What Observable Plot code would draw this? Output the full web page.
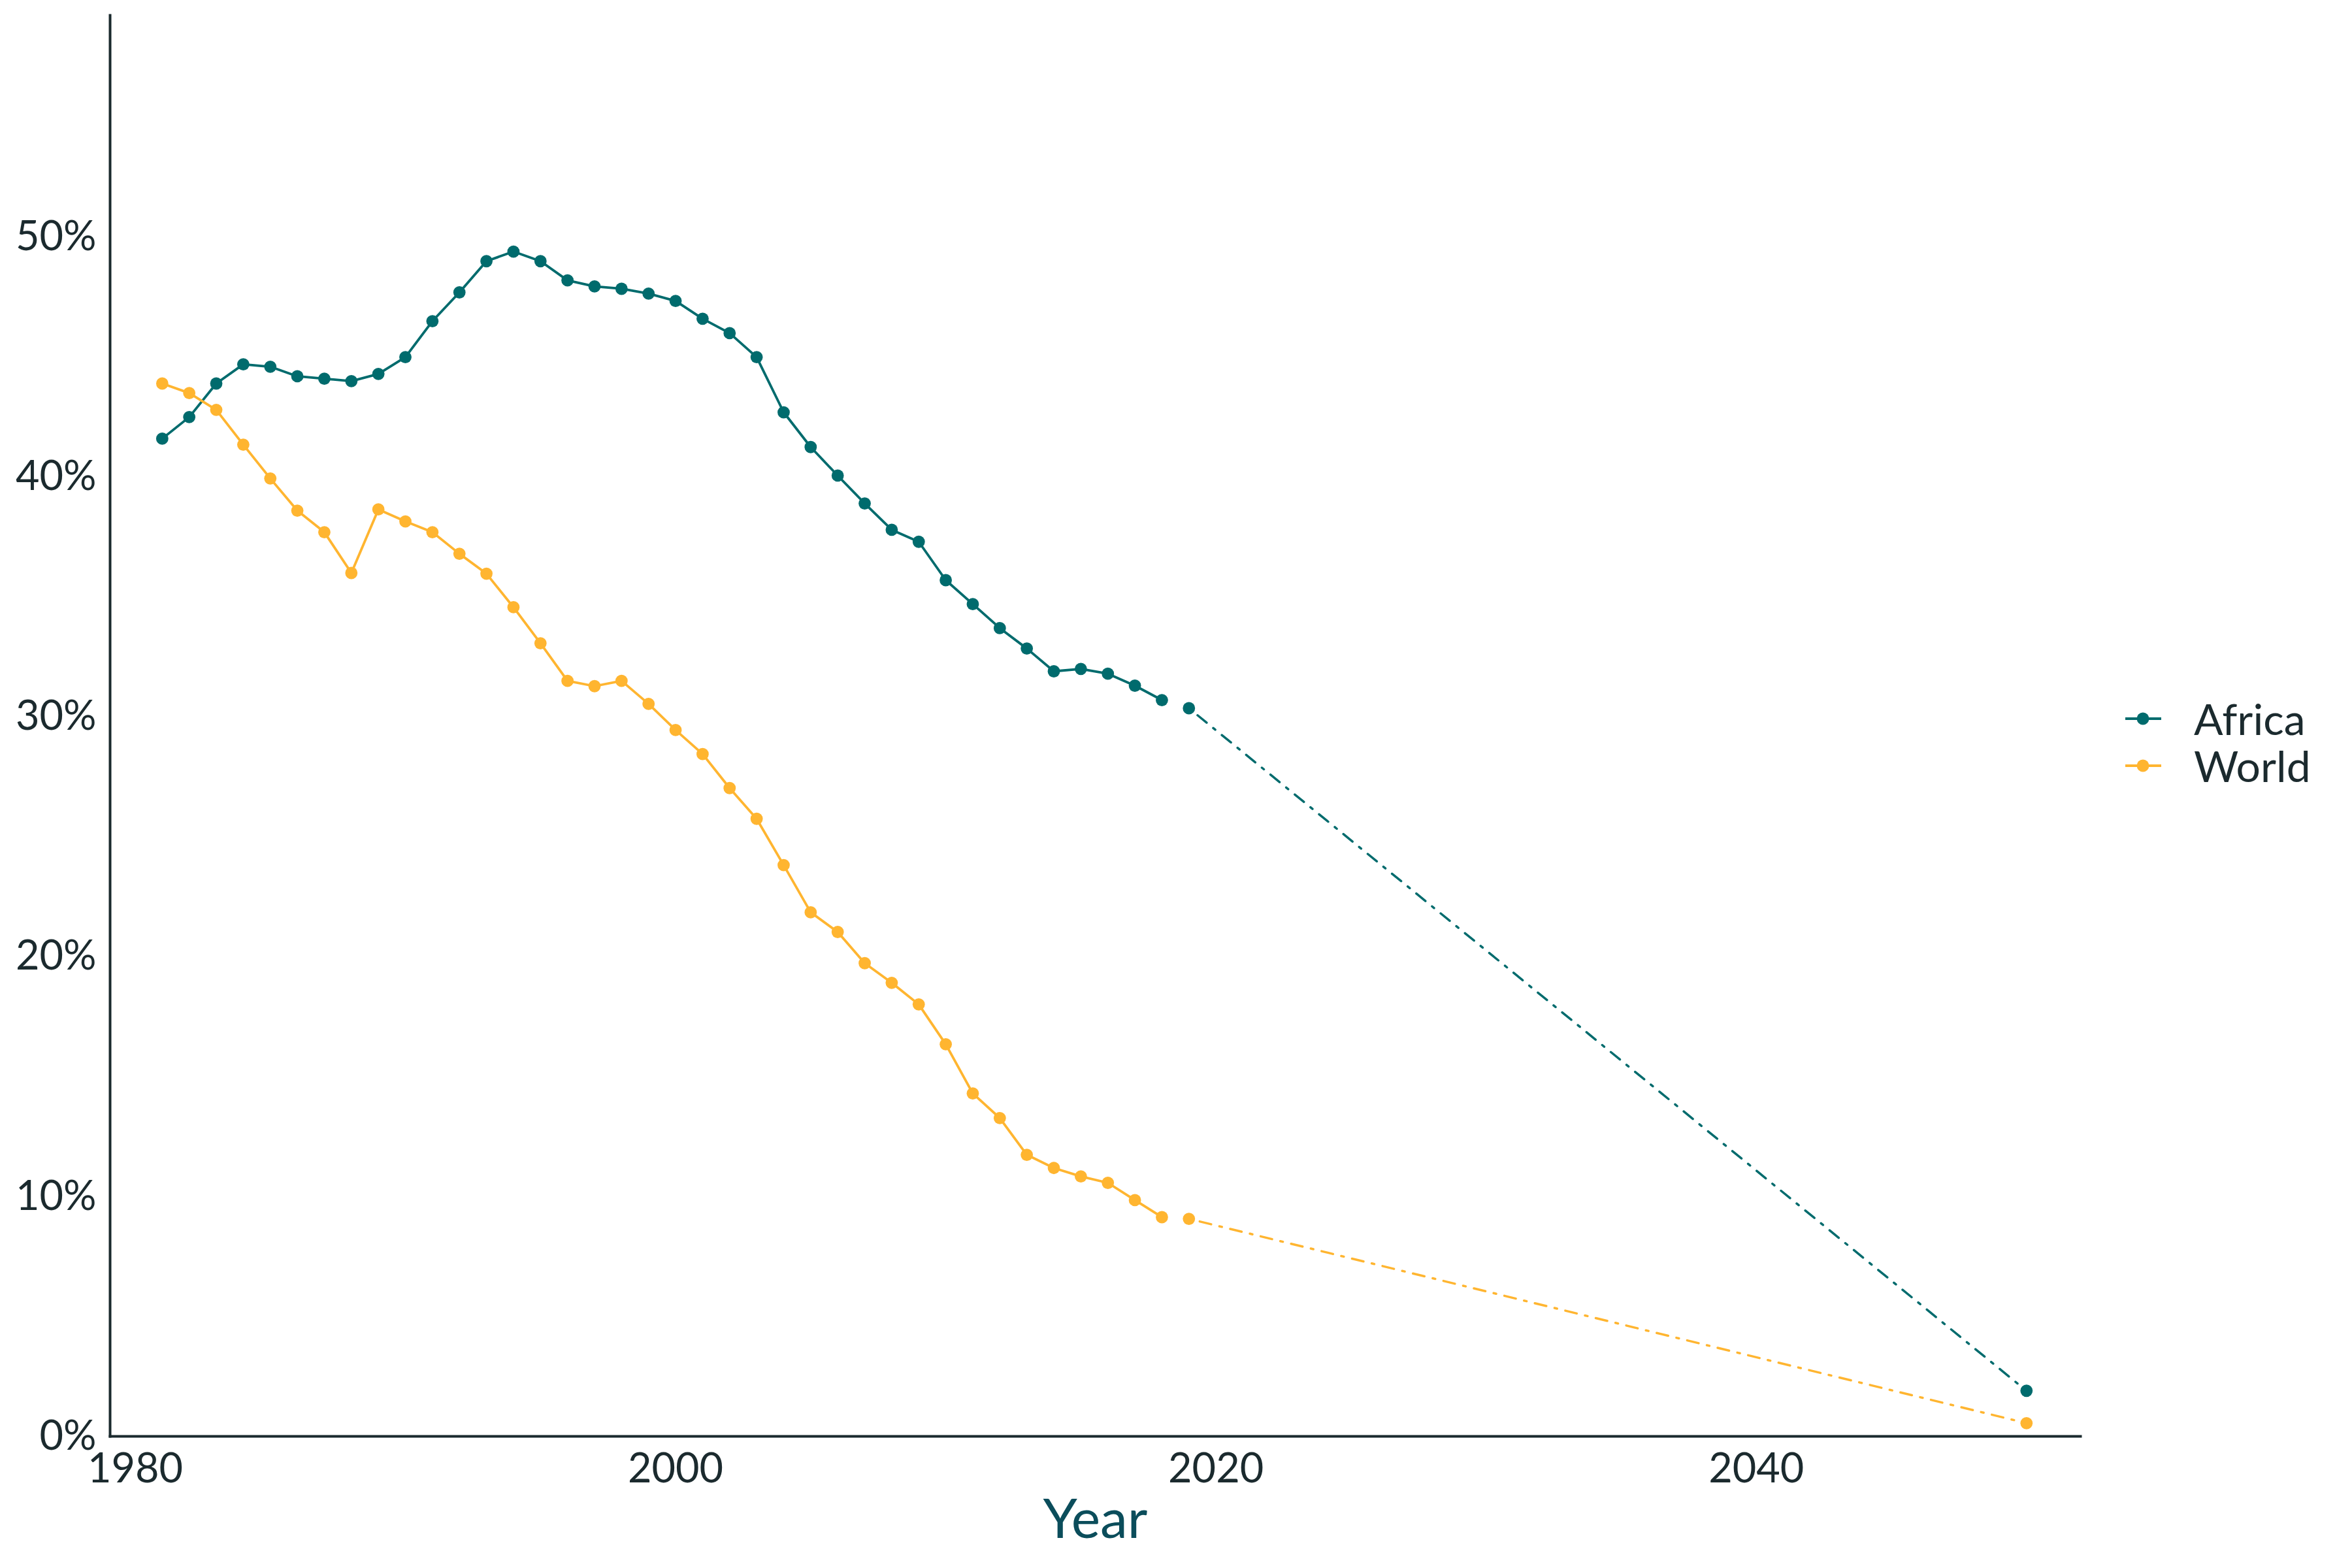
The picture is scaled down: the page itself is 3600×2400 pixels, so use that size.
<!DOCTYPE html>
<html>
<head>
<meta charset="utf-8">
<script src="https://cdn.jsdelivr.net/npm/d3@7"></script>
<script src="https://cdn.jsdelivr.net/npm/@observablehq/plot@0.6"></script>
<style>
  html, body { margin: 0; padding: 0; background: #ffffff; }
  #wrap { position: relative; width: 3600px; height: 2400px; font-family: Lato, "Open Sans", sans-serif; }
  #legend { position: absolute; left: 3248px; top: 1064px; }
  .lg-row { display: flex; align-items: center; height: 72px; }
  .lg-row span { font-size: 66px; color: #1B2A2E; margin-left: 40px; line-height: 66px; display: block; height: 66px; }
</style>
</head>
<body>
<div id="wrap"><div id="legend"></div></div>
<script>
// ---- data ----
const regions = ["Africa", "World"];
const regionColors = ["#006B6D", "#FFB530"];
const histYears = d3.range(1981, 2019);
const africaHist = [41.6, 42.5, 43.9, 44.7, 44.6, 44.2, 44.1, 44.0, 44.3, 45.0,
  46.5, 47.7, 49.0, 49.4, 49.0, 48.2, 47.95, 47.85, 47.65, 47.34,
  46.6, 46.0, 45.0, 42.7, 41.25, 40.06, 38.9, 37.8, 37.3, 35.7,
  34.7, 33.7, 32.85, 31.9, 32.0, 31.8, 31.3, 30.7];
const worldHist = [43.9, 43.5, 42.8, 41.35, 39.94, 38.6, 37.7, 36.0, 38.65, 38.15,
  37.7, 36.8, 35.97, 34.57, 33.07, 31.5, 31.28, 31.5, 30.54, 29.45,
  28.45, 27.03, 25.75, 23.82, 21.85, 21.03, 19.73, 18.91, 18.01, 16.35,
  14.3, 13.27, 11.74, 11.19, 10.84, 10.57, 9.85, 9.14];
const projYears = [2019, 2050];
const africaProj = [30.36, 1.9];
const worldProj = [9.07, 0.55];
const xTicks = [1980, 2000, 2020, 2040];
const yTicks = [0, 10, 20, 30, 40, 50];
const xLabel = "Year";

// ---- tidy tables ----
const hist = [
  ...histYears.map((y, i) => ({year: y, value: africaHist[i], region: "Africa"})),
  ...histYears.map((y, i) => ({year: y, value: worldHist[i], region: "World"}))
];
const proj = [
  ...projYears.map((y, i) => ({year: y, value: africaProj[i], region: "Africa"})),
  ...projYears.map((y, i) => ({year: y, value: worldProj[i], region: "World"}))
];

const ink = "#1B2A2E";
const chart = Plot.plot({
  width: 3600,
  height: 2400,
  marginLeft: 168,
  marginRight: 416,
  marginTop: 23,
  marginBottom: 202,
  style: {fontFamily: "Lato, 'Open Sans', sans-serif", background: "#ffffff", color: ink},
  x: {domain: [1979.07, 2052.0]},
  y: {domain: [0, 59.25]},
  color: {domain: regions, range: regionColors},
  marks: [
    Plot.line(proj, {x: "year", y: "value", z: "region", stroke: "region", strokeWidth: 3.5, strokeDasharray: "4,13,18,13"}),
    Plot.line(hist, {x: "year", y: "value", z: "region", stroke: "region", strokeWidth: 3.8}),
    Plot.dot(hist.concat(proj), {x: "year", y: "value", fill: "region", r: 9.4}),
    Plot.axisX({ticks: xTicks, tickSize: 0, tickPadding: 26, fontSize: 63, tickFormat: d => String(d), label: null, fill: ink}),
    Plot.axisY({ticks: yTicks, tickSize: 0, tickPadding: 21, fontSize: 63, tickFormat: d => d + "%", label: null, fill: ink}),
    Plot.frame({anchor: "left", stroke: ink, strokeWidth: 4}),
    Plot.frame({anchor: "bottom", stroke: ink, strokeWidth: 4}),
    Plot.text([xLabel], {frameAnchor: "bottom", text: d => d, dy: 155, fontSize: 84, fill: "#0B4D5B"})
  ]
});
document.getElementById("wrap").prepend(chart);

// ---- legend (right side) ----
const legend = d3.select("#legend");
regions.forEach((r, i) => {
  const row = legend.append("div").attr("class", "lg-row");
  const svg = row.append("svg").attr("width", 70).attr("height", 30);
  svg.append("line").attr("x1", 5).attr("x2", 60).attr("y1", 15).attr("y2", 15)
    .attr("stroke", regionColors[i]).attr("stroke-width", 4);
  svg.append("circle").attr("cx", 32).attr("cy", 15).attr("r", 9.4).attr("fill", regionColors[i]);
  row.append("span").text(r);
});
</script>
</body>
</html>
